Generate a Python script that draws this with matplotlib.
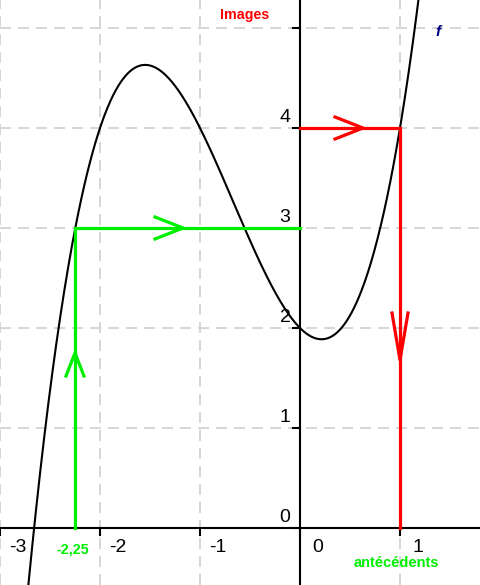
import numpy as np
import matplotlib
matplotlib.use("Agg")
import matplotlib.pyplot as plt

# Data
coeffs = [1, 2, -1, 2]          # f(x) = x^3 + 2x^2 - x + 2
x_ticks = [-3, -2, -1, 0, 1]
y_ticks = [0, 1, 2, 3, 4]
grid_x = [-3, -2, -1, 0, 1]
grid_y = [0, 1, 2, 3, 4, 5]
green_x = -2.25
green_y = 3
red_x = 1
red_y = 4

fig = plt.figure(figsize=(4.8, 5.85), dpi=100)
ax = fig.add_axes([0, 0, 1, 1])
ax.set_xlim(-3, 1.8)
ax.set_ylim(-0.57, 5.28)
ax.axis('off')

gcol = '#cfcfcf'
for gx in grid_x:
    ax.axvline(gx, color=gcol, lw=1.2, ls=(0, (6.6, 4.2)), zorder=1)
for gy in grid_y:
    ax.axhline(gy, color=gcol, lw=1.2, ls=(0, (6.6, 4.2)), zorder=1)

# axes
ax.axhline(0, color='black', lw=1.5, zorder=2)
ax.axvline(0, color='black', lw=1.5, zorder=2)
for t in x_ticks:
    ax.plot([t, t], [0, -0.07], color='black', lw=1.5, zorder=2)
for t in y_ticks + [5]:
    ax.plot([-0.07, 0], [t, t], color='black', lw=1.5, zorder=2)

font = 'Liberation Sans'
for t in x_ticks:
    ax.text(t + 0.18, -0.2, str(t), ha='center', va='center', fontsize=14, family=font)
for t in y_ticks:
    ax.text(-0.15, t + 0.11, str(t), ha='center', va='center', fontsize=14, family=font)

# curve
xs = np.linspace(-3.0, 1.8, 600)
ax.plot(xs, np.polyval(coeffs, xs), color='black', lw=1.5, zorder=3)

green = '#00ee00'
red = '#ff0000'
ax.plot([green_x, green_x, 0], [0, green_y, green_y], color=green, lw=2.3, zorder=4,
        solid_joinstyle='miter')
ax.plot([0, red_x, red_x], [red_y, red_y, 0], color=red, lw=2.3, zorder=4,
        solid_joinstyle='miter')

def chevron(tip, back, half, color):
    tx, ty = tip
    bx, by = back
    d = np.array([tx - bx, ty - by])
    n = np.array([-d[1], d[0]]) / np.hypot(*d) * half
    p1 = np.array([bx, by]) + n
    p2 = np.array([bx, by]) - n
    ax.plot([p1[0], tx, p2[0]], [p1[1], ty, p2[1]], color=color, lw=2.3, zorder=5)

chevron((green_x, 1.75), (green_x, 1.52), 0.09, green)
chevron((-1.17, green_y), (-1.45, green_y), 0.11, green)
chevron((0.63, red_y), (0.35, red_y), 0.11, red)
chevron((red_x, 1.68), (red_x, 2.15), 0.08, red)

ax.text(-0.55, 5.13, 'Images', color=red, fontsize=10.3, fontweight='bold',
        ha='center', va='center', family=font)
ax.text(0.96, -0.35, 'antécédents', color=green, fontsize=10.5, fontweight='bold',
        ha='center', va='center', family=font)
ax.text(-2.27, -0.22, '-2,25', color=green, fontsize=10.3, fontweight='bold',
        ha='center', va='center', family=font)
ax.text(1.38, 4.96, 'f', color='#000080', fontsize=11, fontweight='bold',
        fontstyle='italic', ha='center', va='center', family=font)

fig.savefig('out.png', dpi=100)
